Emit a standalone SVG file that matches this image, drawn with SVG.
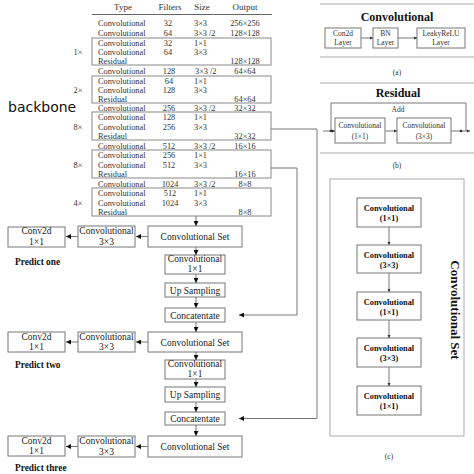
<svg xmlns="http://www.w3.org/2000/svg" width="474" height="474" viewBox="0 0 474 474">
<style>
.t{font-family:"Liberation Serif",serif;font-size:8.3px;fill:#333}
.h{font-family:"Liberation Serif",serif;font-size:9px;fill:#333}
.c{text-anchor:middle}
.f{font-family:"Liberation Serif",serif;font-size:9.5px;fill:#222;text-anchor:middle}
.sm{font-family:"Liberation Serif",serif;font-size:7.5px;fill:#333;text-anchor:middle}
.bt{font-family:"Liberation Serif",serif;font-weight:bold;fill:#111;text-anchor:middle}
.pl{font-family:"Liberation Serif",serif;font-weight:bold;fill:#111;font-size:9.3px}
.bx{fill:#fff;stroke:#777;stroke-width:1}
.tb{fill:none;stroke:#888;stroke-width:1}
.ln{fill:none;stroke:#777;stroke-width:1}
.sep{stroke:#aaa;stroke-width:1.2}
</style>
<defs>
<marker id="ah" viewBox="0 0 6 6" refX="6" refY="3" markerWidth="5" markerHeight="5" markerUnits="userSpaceOnUse" orient="auto"><path d="M0,0 L6,3 L0,6 z" fill="#111"/></marker>
<marker id="as" viewBox="0 0 6 6" refX="6" refY="3" markerWidth="3.5" markerHeight="3.5" markerUnits="userSpaceOnUse" orient="auto"><path d="M0,0 L6,3 L0,6 z" fill="#333"/></marker>
</defs>
<rect width="474" height="474" fill="#fff"/>

<g id="backbone-label"><text x="8" y="112" font-family="DejaVu Sans,sans-serif" font-size="14" fill="#111">backbone</text></g>

<g id="backbone-table">
<text class="h c" x="123" y="10">Type</text>
<text class="h c" x="170" y="10">Filters</text>
<text class="h c" x="202" y="10">Size</text>
<text class="h c" x="245" y="10">Output</text>
<line x1="92" y1="14.5" x2="272" y2="14.5" stroke="#666" stroke-width="1.2"/>

<text class="t" x="98" y="26">Convolutional</text><text class="t c" x="168" y="26">32</text><text class="t" x="194" y="26">3×3</text><text class="t c" x="245" y="26">256×256</text>
<text class="t" x="98" y="35.5">Convolutional</text><text class="t c" x="168" y="35.5">64</text><text class="t" x="194" y="35.5">3×3 /2</text><text class="t c" x="245" y="35.5">128×128</text>

<g id="res-1x">
<rect class="tb" x="92" y="38" width="179" height="27"/>
<text class="t c" x="78" y="55">1×</text>
<text class="t" x="98" y="45.5">Convolutional</text><text class="t c" x="168" y="45.5">32</text><text class="t" x="194" y="45.5">1×1</text>
<text class="t" x="98" y="55">Convolutional</text><text class="t c" x="168" y="55">64</text><text class="t" x="194" y="55">3×3</text>
<text class="t" x="98" y="64">Residual</text><text class="t c" x="245" y="64">128×128</text>
</g>

<text class="t" x="98" y="73.5">Convolutional</text><text class="t c" x="169" y="73.5">128</text><text class="t" x="195" y="73.5">3×3 /2</text><text class="t c" x="245" y="73.5">64×64</text>

<g id="res-2x">
<rect class="tb" x="92" y="76" width="179" height="27"/>
<text class="t c" x="78" y="93">2×</text>
<text class="t" x="98" y="83.5">Convolutional</text><text class="t c" x="169" y="83.5">64</text><text class="t" x="194" y="83.5">1×1</text>
<text class="t" x="98" y="93">Convolutional</text><text class="t c" x="169" y="93">128</text><text class="t" x="194" y="93">3×3</text>
<text class="t" x="98" y="102">Residual</text><text class="t c" x="245" y="102">64×64</text>
</g>

<text class="t" x="98" y="110.5">Convolutional</text><text class="t c" x="169" y="110.5">256</text><text class="t" x="194" y="110.5">3×3 /2</text><text class="t c" x="245" y="110.5">32×32</text>

<g id="res-8x-a">
<rect class="tb" x="92" y="112" width="179" height="28"/>
<text class="t c" x="78" y="130">8×</text>
<text class="t" x="98" y="120">Convolutional</text><text class="t c" x="169" y="120">128</text><text class="t" x="194" y="120">1×1</text>
<text class="t" x="98" y="129.5">Convolutional</text><text class="t c" x="169" y="129.5">256</text><text class="t" x="194" y="129.5">3×3</text>
<text class="t" x="98" y="139">Residaul</text><text class="t c" x="245" y="139">32×32</text>
</g>

<text class="t" x="98" y="148.5">Convolutional</text><text class="t c" x="169" y="148.5">512</text><text class="t" x="194" y="148.5">3×3 /2</text><text class="t c" x="245" y="148.5">16×16</text>

<g id="res-8x-b">
<rect class="tb" x="92" y="150" width="179" height="28"/>
<text class="t c" x="78" y="167.5">8×</text>
<text class="t" x="98" y="158">Convolutional</text><text class="t c" x="169" y="158">256</text><text class="t" x="194" y="158">1×1</text>
<text class="t" x="98" y="167.5">Convolutional</text><text class="t c" x="169" y="167.5">512</text><text class="t" x="194" y="167.5">3×3</text>
<text class="t" x="98" y="177">Residual</text><text class="t c" x="245" y="177">16×16</text>
</g>

<text class="t" x="98" y="186.5">Convolutional</text><text class="t c" x="170" y="186.5">1024</text><text class="t" x="194" y="186.5">3×3 /2</text><text class="t c" x="245" y="186.5">8×8</text>

<g id="res-4x">
<rect class="tb" x="92" y="188" width="179" height="28"/>
<text class="t c" x="78" y="205.5">4×</text>
<text class="t" x="98" y="196">Convolutional</text><text class="t c" x="170" y="196">512</text><text class="t" x="194" y="196">1×1</text>
<text class="t" x="98" y="205.5">Convolutional</text><text class="t c" x="170" y="205.5">1024</text><text class="t" x="194" y="205.5">3×3</text>
<text class="t" x="98" y="215">Residual</text><text class="t c" x="245" y="215">8×8</text>
</g>
</g>

<g id="convset-1"><rect class="bx" x="148" y="226" width="94" height="21"/><text class="f" x="195" y="240">Convolutional Set</text></g>
<g id="conv33-1"><rect class="bx" x="78" y="226" width="57" height="21"/><text class="f" x="106.5" y="234">Convolutional</text><text class="f" x="106.5" y="245">3×3</text></g>
<g id="conv2d-1"><rect class="bx" x="8" y="227" width="57" height="20"/><text class="f" x="36.5" y="234">Conv2d</text><text class="f" x="36.5" y="245">1×1</text></g>
<g id="predict-one"><text class="pl" x="15" y="265">Predict one</text></g>
<g id="conv11-1"><rect class="bx" x="165" y="255" width="60" height="19"/><text class="f" x="195" y="262">Convolutional</text><text class="f" x="195" y="272">1×1</text></g>
<g id="upsample-1"><rect class="bx" x="165" y="283" width="60" height="14"/><text class="f" x="195" y="293.5">Up Sampling</text></g>
<g id="concat-1"><rect class="bx" x="165" y="308" width="60" height="14"/><text class="f" x="195" y="318.5">Concatentate</text></g>

<g id="convset-2"><rect class="bx" x="148" y="332" width="94" height="20"/><text class="f" x="195" y="345.5">Convolutional Set</text></g>
<g id="conv33-2"><rect class="bx" x="78" y="332" width="57" height="20"/><text class="f" x="106.5" y="339.5">Convolutional</text><text class="f" x="106.5" y="350">3×3</text></g>
<g id="conv2d-2"><rect class="bx" x="8" y="332" width="57" height="20"/><text class="f" x="36.5" y="339.5">Conv2d</text><text class="f" x="36.5" y="350">1×1</text></g>
<g id="predict-two"><text class="pl" x="15" y="368">Predict two</text></g>
<g id="conv11-2"><rect class="bx" x="165" y="360" width="60" height="19"/><text class="f" x="195" y="367">Convolutional</text><text class="f" x="195" y="377">1×1</text></g>
<g id="upsample-2"><rect class="bx" x="165" y="387" width="60" height="15"/><text class="f" x="195" y="398">Up Sampling</text></g>
<g id="concat-2"><rect class="bx" x="165" y="412" width="60" height="13"/><text class="f" x="195" y="422">Concatentate</text></g>

<g id="convset-3"><rect class="bx" x="148" y="436" width="94" height="21"/><text class="f" x="195" y="450">Convolutional Set</text></g>
<g id="conv33-3"><rect class="bx" x="78" y="436" width="57" height="21"/><text class="f" x="106.5" y="443.5">Convolutional</text><text class="f" x="106.5" y="454.5">3×3</text></g>
<g id="conv2d-3"><rect class="bx" x="8" y="436" width="57" height="20"/><text class="f" x="36.5" y="443.5">Conv2d</text><text class="f" x="36.5" y="454">1×1</text></g>
<g id="predict-three"><text class="pl" x="15" y="471">Predict three</text></g>

<g id="panel-a">
<line class="sep" x1="320" y1="4" x2="474" y2="4"/>
<text class="bt" x="397" y="21" font-size="12">Convolutional</text>
<g id="a-conv2d"><rect class="bx" x="325" y="28" width="36" height="20"/><text class="sm" x="343" y="36">Con2d</text><text class="sm" x="343" y="45">Layer</text></g>
<g id="a-bn"><rect class="bx" x="373" y="28" width="25" height="20"/><text class="sm" x="385.5" y="36">BN</text><text class="sm" x="385.5" y="45">Layer</text></g>
<g id="a-leaky"><rect class="bx" x="417" y="28" width="48" height="20"/><text class="sm" x="441" y="36">LeakyReLU</text><text class="sm" x="441" y="45">Layer</text></g>
<line class="sep" x1="320" y1="57" x2="474" y2="57" stroke-width="1.6"/>
<text class="sm" x="397" y="75">(a)</text>
<line class="sep" x1="320" y1="83" x2="474" y2="83"/>
</g>

<g id="panel-b">
<text class="bt" x="398" y="97" font-size="12">Residual</text>
<text class="sm" x="398" y="112">Add</text>
<g id="b-conv1"><rect class="bx" x="335" y="118" width="50" height="25"/><text class="sm" x="360" y="128">Convolutional</text><text class="sm" x="360" y="139">(1×1)</text></g>
<g id="b-conv3"><rect class="bx" x="397" y="118" width="54" height="25"/><text class="sm" x="424" y="128">Convolutional</text><text class="sm" x="424" y="139">(3×3)</text></g>
<line class="sep" x1="320" y1="153" x2="474" y2="153"/>
<text class="sm" x="397" y="168">(b)</text>
</g>

<g id="panel-c">
<rect x="330" y="179" width="134" height="257" fill="none" stroke="#aaa" stroke-width="1"/>
<g id="c-conv1"><rect class="bx" x="357" y="198" width="64" height="29"/><text class="bt" x="389" y="211" font-size="8.3">Convolutional</text><text class="bt" x="389" y="221" font-size="8.3">(1×1)</text></g>
<g id="c-conv2"><rect class="bx" x="357" y="245" width="64" height="28"/><text class="bt" x="389" y="258" font-size="8.3">Convolutional</text><text class="bt" x="389" y="268" font-size="8.3">(3×3)</text></g>
<g id="c-conv3"><rect class="bx" x="357" y="292" width="64" height="28"/><text class="bt" x="389" y="305" font-size="8.3">Convolutional</text><text class="bt" x="389" y="315" font-size="8.3">(1×1)</text></g>
<g id="c-conv4"><rect class="bx" x="357" y="338" width="64" height="29"/><text class="bt" x="389" y="351" font-size="8.3">Convolutional</text><text class="bt" x="389" y="361" font-size="8.3">(3×3)</text></g>
<g id="c-conv5"><rect class="bx" x="357" y="386" width="64" height="29"/><text class="bt" x="389" y="399" font-size="8.3">Convolutional</text><text class="bt" x="389" y="409" font-size="8.3">(1×1)</text></g>
<text class="bt" font-size="13" transform="translate(451,310) rotate(90)">Convolutional Set</text>
<text class="sm" x="389" y="459">(c)</text>
</g>

<g id="connectors">
<path class="ln" d="M196,216 V226" marker-end="url(#ah)"/>
<path class="ln" d="M148,236.5 H136" marker-end="url(#ah)"/>
<path class="ln" d="M78,236.5 H66" marker-end="url(#ah)"/>
<path class="ln" d="M196,247 V255" marker-end="url(#ah)"/>
<path class="ln" d="M196,274 V283" marker-end="url(#ah)"/>
<path class="ln" d="M196,297 V308" marker-end="url(#ah)"/>
<path class="ln" d="M196,322 V332" marker-end="url(#ah)"/>
<path class="ln" d="M148,342 H136" marker-end="url(#ah)"/>
<path class="ln" d="M78,342 H66" marker-end="url(#ah)"/>
<path class="ln" d="M196,352 V360" marker-end="url(#ah)"/>
<path class="ln" d="M196,379 V387" marker-end="url(#ah)"/>
<path class="ln" d="M196,402 V412" marker-end="url(#ah)"/>
<path class="ln" d="M196,425 V436" marker-end="url(#ah)"/>
<path class="ln" d="M148,446.5 H136" marker-end="url(#ah)"/>
<path class="ln" d="M78,446.5 H66" marker-end="url(#ah)"/>
<path class="ln" d="M271,129 H317 V418.5 H239" marker-end="url(#ah)"/>
<path class="ln" d="M271,168 H297 V315 H239" marker-end="url(#ah)"/>
<path class="ln" d="M361,38 H373" marker-end="url(#as)"/>
<path class="ln" d="M398,38 H417" marker-end="url(#as)"/>
<path class="ln" d="M323,131 H335" marker-end="url(#as)"/>
<path class="ln" d="M331,131 V103 H466 V131"/>
<circle cx="331" cy="131" r="1.3" fill="#333"/>
<path class="ln" d="M385,131 H397" marker-end="url(#as)"/>
<path class="ln" d="M451,131 H470" marker-end="url(#as)"/>
<circle cx="461" cy="131" r="1.3" fill="#333"/>
<path class="ln" d="M389,227 V245" marker-end="url(#as)"/>
<path class="ln" d="M389,273 V292" marker-end="url(#as)"/>
<path class="ln" d="M389,320 V338" marker-end="url(#as)"/>
<path class="ln" d="M389,367 V386" marker-end="url(#as)"/>
</g>
</svg>
